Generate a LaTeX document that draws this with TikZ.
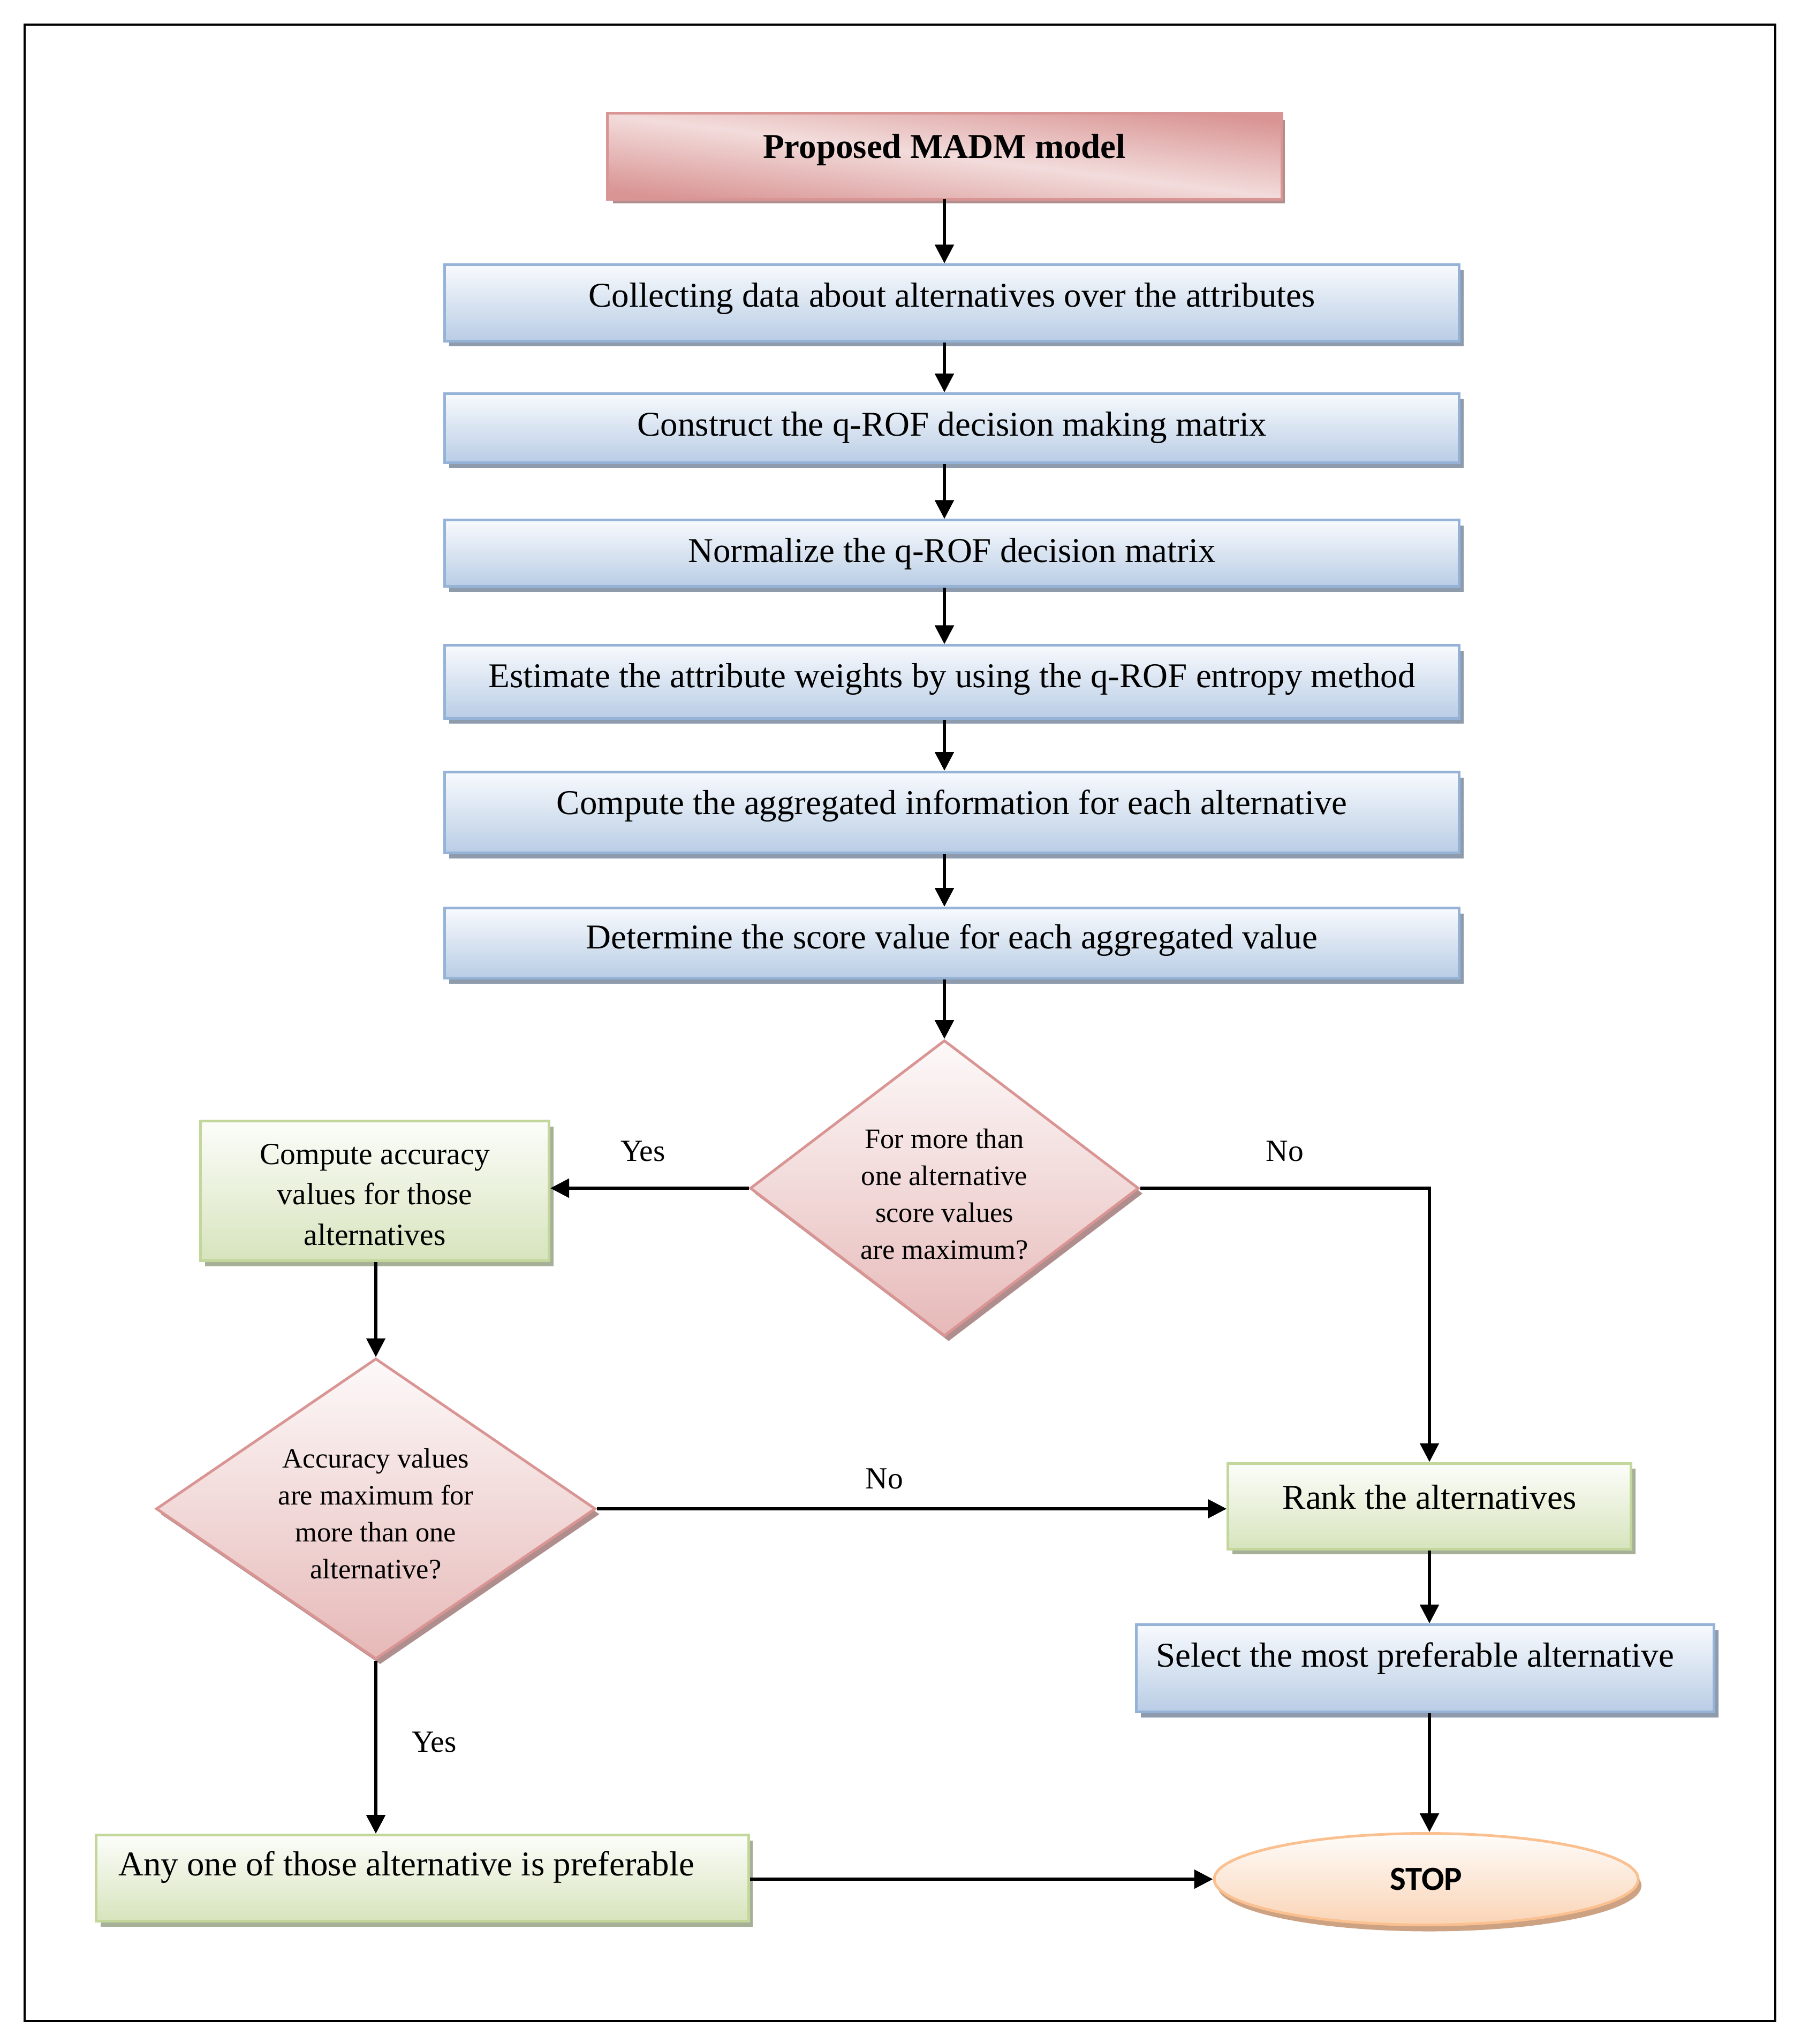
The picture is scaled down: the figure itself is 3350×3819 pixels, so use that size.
\documentclass[tikz,border=0pt]{standalone}
\usepackage{fontspec}
\setmainfont{Liberation Serif}
\newfontfamily\stopfont{Carlito}
\usetikzlibrary{shapes.geometric,arrows.meta,shadows,calc}
\definecolor{bluebd}{HTML}{95B3D7}
\definecolor{bluetop}{HTML}{F8FAFD}
\definecolor{bluebot}{HTML}{B9CDE5}
\definecolor{blueshd}{HTML}{8E9BAD}
\definecolor{greenbd}{HTML}{C3D69B}
\definecolor{greentop}{HTML}{FCFDFA}
\definecolor{greenbot}{HTML}{D7E4BD}
\definecolor{greenshd}{HTML}{A6AF97}
\definecolor{pinkbd}{HTML}{D99594}
\definecolor{pinktop}{HTML}{FDF9F9}
\definecolor{pinkbot}{HTML}{E6B9B8}
\definecolor{pinkshd}{HTML}{B08E8E}
\definecolor{pinklt}{HTML}{F2DCDB}
\definecolor{stopbd}{HTML}{FAC090}
\definecolor{stoptop}{HTML}{FEFCFA}
\definecolor{stopbot}{HTML}{FAD4B6}
\definecolor{stopshd}{HTML}{CDA283}
\tikzset{
  boxbase/.style={draw, line width=1pt, inner sep=0pt, rectangle},
  bluebox/.style={boxbase, draw=bluebd, top color=bluetop, bottom color=bluebot,
    drop shadow={shadow xshift=1.6pt, shadow yshift=-2pt, fill=blueshd, opacity=1}},
  greenbox/.style={boxbase, draw=greenbd, top color=greentop, bottom color=greenbot,
    drop shadow={shadow xshift=1.6pt, shadow yshift=-2pt, fill=greenshd, opacity=1}},
  redbox/.style={boxbase, draw=pinkbd, fill=pinkbd,
    drop shadow={shadow xshift=1.6pt, shadow yshift=-2pt, fill=pinkshd, opacity=1}},
  decide/.style={diamond, draw=pinkbd, line width=1pt, inner sep=0pt, top color=pinktop, bottom color=pinkbot,
    drop shadow={shadow xshift=1.6pt, shadow yshift=-2pt, fill=pinkshd, opacity=1}},
  stopshape/.style={ellipse, draw=stopbd, line width=1pt, inner sep=0pt, top color=stoptop, bottom color=stopbot,
    drop shadow={shadow xshift=1.2pt, shadow yshift=-2.4pt, fill=stopshd, opacity=1}},
  txt/.style={font=\fontsize{13}{15.6}\selectfont, inner sep=0pt},
  dtxt/.style={font=\fontsize{10.5}{13.8}\selectfont, align=center, inner sep=0pt},
  gtxt/.style={font=\fontsize{11.5}{15.1}\selectfont, align=center, inner sep=0pt},
  lbl/.style={font=\fontsize{11.5}{13}\selectfont, inner sep=0pt},
  arr/.style={-{Triangle[length=7pt,width=7pt]}, line width=1.1pt}
}
\begin{document}
\begin{tikzpicture}[x=0.2pt,y=-0.2pt]
\useasboundingbox (0,0) rectangle (3350,3819);
\draw[line width=0.8pt] (46,46) rectangle (3316,3776);

% top box
\node[redbox, minimum width=251pt, minimum height=31.2pt] (top) at (1764,292) {};
\begin{scope}
  \clip (top.south west) rectangle (top.north east);
  \begin{scope}[transform canvas={rotate around={-7:(top.center)}}]
    \shade[top color=pinkbd, bottom color=pinkbd, middle color=pinklt]
      ($(top.center)+(-800,-140)$) rectangle ($(top.center)+(800,140)$);
  \end{scope}
\end{scope}
\draw[pinkbd, line width=1pt] (top.south west) rectangle (top.north east);
\node[txt, font=\fontsize{13}{15.6}\selectfont\bfseries] (topt) at (1764,280) {Proposed MADM model};

% blue column
\node[bluebox, minimum width=379pt, minimum height=28.6pt] (b1) at (1778,566) {};
\node[txt] (b1t) at (1778,558) {Collecting data about alternatives over the attributes};
\node[bluebox, minimum width=379pt, minimum height=25.8pt] (b2) at (1778,800) {};
\node[txt] (b2t) at (1778,799) {Construct the q-ROF decision making matrix};
\node[bluebox, minimum width=379pt, minimum height=24.8pt] (b3) at (1778,1034) {};
\node[txt] (b3t) at (1778,1035) {Normalize the q-ROF decision matrix};
\node[bluebox, minimum width=379pt, minimum height=27.2pt] (b4) at (1778,1274) {};
\node[txt] (b4t) at (1778,1269) {Estimate the attribute weights by using the q-ROF entropy method};
\node[bluebox, minimum width=379pt, minimum height=30.2pt] (b5) at (1778,1518) {};
\node[txt] (b5t) at (1778,1506) {Compute the aggregated information for each alternative};
\node[bluebox, minimum width=379pt, minimum height=26.2pt] (b6) at (1778,1762) {};
\node[txt] (b6t) at (1778,1757) {Determine the score value for each aggregated value};

% decision 1
\node[decide, minimum width=145.2pt, minimum height=110.6pt] (d1) at (1764,2220) {};
\node[dtxt] (d1t) at (1764,2231) {For more than\\one alternative\\score values\\are maximum?};

% green 1
\node[greenbox, minimum width=130.2pt, minimum height=52.2pt] (g1) at (700,2225) {};
\node[gtxt] (g1t) at (700,2232) {Compute accuracy\\values for those\\alternatives};

% decision 2
\node[decide, minimum width=164.2pt, minimum height=112.4pt] (d2) at (702,2819) {};
\node[dtxt] (d2t) at (702,2828) {Accuracy values\\are maximum for\\more than one\\alternative?};

% right column
\node[greenbox, minimum width=150.6pt, minimum height=32pt] (rank) at (2670,2814) {};
\node[txt] (rankt) at (2670,2797) {Rank the alternatives};
\node[bluebox, minimum width=215.8pt, minimum height=32.6pt] (sel) at (2662,3117) {};
\node[txt] (selt) at (2643,3099) {Select the most preferable alternative};
\node[stopshape, minimum width=158.4pt, minimum height=34.2pt] (stop) at (2664,3511) {};
\node[inner sep=0pt, font=\stopfont\bfseries\fontsize{12.6}{14}\selectfont] (stopt) at (2664,3511) {STOP};

% bottom left
\node[greenbox, minimum width=243.6pt, minimum height=32.2pt] (any) at (789,3509) {};
\node[txt] (anyt) at (759,3489) {Any one of those alternative is preferable};

% labels
\node[lbl] (yes1) at (1201,2151) {Yes};
\node[lbl] (no1) at (2400,2151) {No};
\node[lbl] (no2) at (1652,2763) {No};
\node[lbl] (yes2) at (811,3255) {Yes};

% connectors
\draw[arr] (top.south) -- (top.south |- b1.north);
\draw[arr] (top.south |- b1.south) -- (top.south |- b2.north);
\draw[arr] (top.south |- b2.south) -- (top.south |- b3.north);
\draw[arr] (top.south |- b3.south) -- (top.south |- b4.north);
\draw[arr] (top.south |- b4.south) -- (top.south |- b5.north);
\draw[arr] (top.south |- b5.south) -- (top.south |- b6.north);
\draw[arr] (d1.north |- b6.south) -- (d1.north);
\draw[arr] (d1.west) -- (d1.west -| g1.east);
\draw[arr] (d1.east) -| (rank.north);
\draw[arr] (g1.south -| d2.north) -- (d2.north);
\draw[arr] (d2.east) -- (d2.east -| rank.west);
\draw[arr] (rank.south) -- (rank.south |- sel.north);
\draw[arr] (rank.south |- sel.south) -- (rank.south |- stop.north);
\draw[arr] (d2.south) -- (d2.south |- any.north);
\draw[arr] (any.east |- stop.west) -- (stop.west);
\end{tikzpicture}
\end{document}
